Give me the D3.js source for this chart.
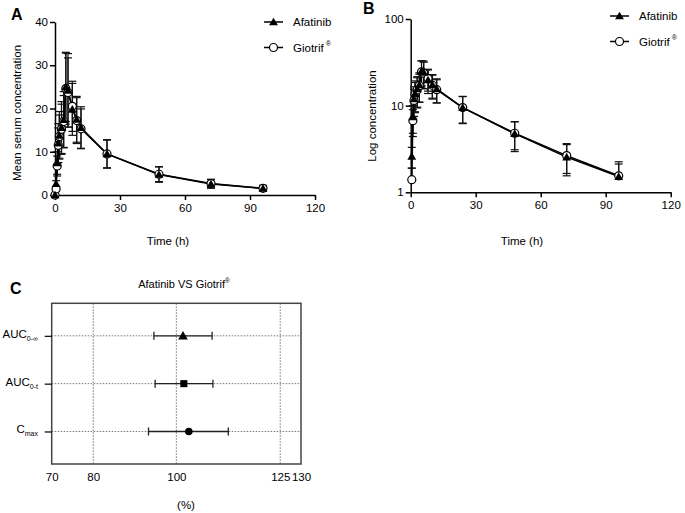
<!DOCTYPE html>
<html>
<head>
<meta charset="utf-8">
<script src="https://cdn.jsdelivr.net/npm/d3@7"></script>
<style>
  body { margin: 0; background: #fff; }
  svg { font-family: "Liberation Sans", Arial, sans-serif; }
</style>
</head>
<body>
<div id="chart"></div>
<script>
// Datos
// =====
var times = [0, 0.5, 1, 1.5, 2, 3, 4, 5, 6, 8, 10, 12, 24, 48, 72, 96];
var afatinibMean = [0, 2.6, 7.4, 12.0, 13.8, 15.6, 17.4, 25.0, 24.2, 19.8, 17.5, 15.6, 9.5, 4.75, 2.55, 1.52];
var afatinibSD   = [0, 0.7, 2.6, 4.5, 5.5, 6.0, 6.5, 8.0, 8.5, 6.0, 5.3, 4.8, 3.3, 1.8, 1.0, 0.6];
var giotrifMean  = [0, 1.4, 6.7, 11.5, 13.5, 15.2, 17.0, 24.6, 23.7, 20.5, 17.2, 15.3, 9.5, 4.8, 2.65, 1.55];
var giotrifSD    = [0, 0.5, 2.3, 4.0, 5.0, 5.8, 6.0, 8.2, 8.0, 5.8, 5.3, 4.6, 3.2, 1.7, 1.0, 0.7];

var xTicks = [0, 30, 60, 90, 120];
var yTicksA = [0, 10, 20, 30, 40];
var yTicksB = [1, 10, 100];

var params = ["AUC0-∞", "AUC0-t", "Cmax"];
var ratio = [101.6, 101.8, 103.0];
var ciLow = [94.6, 94.9, 93.3];
var ciHigh = [108.6, 108.8, 112.5];
var pctTicks = [70, 80, 100, 125, 130];
var pctGrid = [80, 100, 125];

// SVG
// ===
var svg = d3.select("#chart").append("svg")
  .attr("width", 685).attr("height", 513);

var series = [
  { name: "Afatinib", mean: afatinibMean, sd: afatinibSD, sym: "tri" },
  { name: "Giotrif", mean: giotrifMean, sd: giotrifSD, sym: "circ" }
];

function styleAxis(g) {
  g.selectAll("path, line").attr("stroke", "#000").attr("stroke-width", 1.5);
  g.selectAll("text").attr("font-size", "11.5px").attr("fill", "#000")
    .attr("font-family", "Liberation Sans, Arial, sans-serif");
}

function drawMarker(g, sym, cx, cy) {
  if (sym === "tri") {
    g.append("path")
      .attr("d", d3.symbol().type(d3.symbolTriangle).size(34)())
      .attr("transform", "translate(" + cx + "," + (cy + 0.8) + ")")
      .attr("fill", "#000");
  } else {
    g.append("circle").attr("cx", cx).attr("cy", cy).attr("r", 4)
      .attr("fill", "#fff").attr("stroke", "#000").attr("stroke-width", 1.2);
  }
}

function drawPanel(opts) {
  var x = d3.scaleLinear().domain([0, 120]).range(opts.xRange);
  var y = opts.y;
  var g = svg.append("g");

  g.append("g")
    .attr("transform", "translate(0," + opts.xAxisY + ")")
    .call(d3.axisBottom(x).tickValues(xTicks).tickSize(5).tickSizeOuter(0).tickPadding(4))
    .call(styleAxis);

  g.append("g")
    .attr("transform", "translate(" + opts.xRange[0] + ",0)")
    .call(d3.axisLeft(y).tickValues(opts.yTicks).tickSize(5).tickSizeOuter(0).tickPadding(2)
      .tickFormat(d3.format("d")))
    .call(styleAxis);

  series.forEach(function (s) {
    var pts = [];
    times.forEach(function (t, i) {
      if (opts.log && s.mean[i] <= 0) return;
      pts.push({ t: t, m: s.mean[i], sd: s.sd[i] });
    });

    // barras de error
    pts.forEach(function (p) {
      if (p.sd <= 0) return;
      var hi = p.m + p.sd, lo = p.m - p.sd;
      var cx = x(p.t);
      var loOk = opts.log ? lo >= 1 : lo >= 0;
      var yLo = loOk ? y(lo) : y(p.m);
      g.append("line").attr("x1", cx).attr("x2", cx)
        .attr("y1", y(hi)).attr("y2", yLo)
        .attr("stroke", "#111").attr("stroke-width", 1.2);
      g.append("line").attr("x1", cx - 4).attr("x2", cx + 4)
        .attr("y1", y(hi)).attr("y2", y(hi))
        .attr("stroke", "#111").attr("stroke-width", 1.2);
      if (loOk) {
        g.append("line").attr("x1", cx - 4).attr("x2", cx + 4)
          .attr("y1", y(lo)).attr("y2", y(lo))
          .attr("stroke", "#111").attr("stroke-width", 1.2);
      }
    });

    g.append("path").datum(pts)
      .attr("fill", "none").attr("stroke", "#000").attr("stroke-width", 1.5)
      .attr("d", d3.line().x(function (d) { return x(d.t); }).y(function (d) { return y(d.m); }));
    s.pts = pts;
  });

  // marcadores encima
  series.slice().reverse().forEach(function (s) {
    s.pts.forEach(function (p) { drawMarker(g, s.sym, x(p.t), y(p.m)); });
  });

  // leyenda
  series.forEach(function (s, i) {
    var ly = opts.legY + i * 25.5;
    g.append("line").attr("x1", opts.legX).attr("x2", opts.legX + 19)
      .attr("y1", ly).attr("y2", ly).attr("stroke", "#000").attr("stroke-width", 1.5);
    drawMarker(g, s.sym, opts.legX + 9.5, ly);
    var t = g.append("text").attr("x", opts.legX + 29).attr("y", ly + 4)
      .attr("font-size", "11.5px").text(s.name);
    if (s.name === "Giotrif") {
      t.append("tspan").attr("font-size", "7px").attr("dx", 2).attr("dy", -6).text("®");
    }
  });

  g.append("text").attr("x", opts.lbl[0]).attr("y", opts.lbl[1])
    .attr("font-size", "16px").attr("font-weight", "bold").text(opts.label);

  g.append("text").attr("text-anchor", "middle")
    .attr("transform", "translate(" + opts.yLab[0] + "," + opts.yLab[1] + ") rotate(-90)")
    .attr("font-size", "11.5px").text(opts.yTitle);

  g.append("text").attr("text-anchor", "middle")
    .attr("x", opts.xLabX).attr("y", 245)
    .attr("font-size", "11.5px").text("Time (h)");
}

drawPanel({
  label: "A", lbl: [11, 20],
  xRange: [55, 315], xAxisY: 195,
  y: d3.scaleLinear().domain([0, 40]).range([195, 22]),
  yTicks: yTicksA, log: false,
  legX: 264, legY: 22,
  yLab: [21, 113], yTitle: "Mean serum concentration",
  xLabX: 168
});

drawPanel({
  label: "B", lbl: [363, 14],
  xRange: [410.7, 670.7], xAxisY: 192.3,
  y: d3.scaleLog().domain([1, 100]).range([192.3, 19]),
  yTicks: yTicksB, log: true,
  legX: 610, legY: 16,
  yLab: [376, 116], yTitle: "Log concentration",
  xLabX: 522
});

// Panel C: forest plot
// ====================
var xc = d3.scaleLinear().domain([70, 130]).range([51.7, 301]);
var yc = d3.scalePoint().domain(params).range([303.3, 464]).padding(0.68);
var gc = svg.append("g");
var boxTop = 303.3, boxBot = 464;

gc.selectAll(".vgrid").data(pctGrid).enter().append("line")
  .attr("x1", function (d) { return xc(d); }).attr("x2", function (d) { return xc(d); })
  .attr("y1", boxTop).attr("y2", boxBot)
  .attr("stroke", "#777").attr("stroke-width", 1).attr("stroke-dasharray", "1.5,1.5");

gc.selectAll(".hgrid").data(params).enter().append("line")
  .attr("x1", xc(70)).attr("x2", xc(130))
  .attr("y1", function (d) { return yc(d); }).attr("y2", function (d) { return yc(d); })
  .attr("stroke", "#777").attr("stroke-width", 1).attr("stroke-dasharray", "1.5,1.5");

gc.append("rect").attr("x", xc(70)).attr("y", boxTop)
  .attr("width", xc(130) - xc(70)).attr("height", boxBot - boxTop)
  .attr("fill", "none").attr("stroke", "#444").attr("stroke-width", 1.5);

// ejes
var xAxC = gc.append("g").attr("transform", "translate(0," + boxBot + ")")
  .call(d3.axisBottom(xc).tickValues(pctTicks).tickSize(0).tickPadding(9));
xAxC.select(".domain").remove();
xAxC.selectAll("text").attr("font-size", "11.5px").attr("fill", "#000")
  .attr("font-family", "Liberation Sans, Arial, sans-serif");

var yAxC = gc.append("g").attr("transform", "translate(" + xc(70) + ",0)")
  .call(d3.axisLeft(yc).tickSize(7).tickFormat(""));
yAxC.select(".domain").remove();
yAxC.selectAll("line").attr("stroke", "#000").attr("stroke-width", 1.2);

var subs = { "AUC0-∞": ["AUC", "0-∞"], "AUC0-t": ["AUC", "0-t"], "Cmax": ["C", "max"] };
params.forEach(function (p) {
  var t = gc.append("text").attr("x", 38).attr("y", yc(p) + 2).attr("text-anchor", "end")
    .attr("font-size", "11.5px").text(subs[p][0]);
  t.append("tspan").attr("font-size", "7px").attr("dy", 3).text(subs[p][1]);
});

// intervalos
params.forEach(function (p, i) {
  var cy = yc(p);
  gc.append("line").attr("x1", xc(ciLow[i])).attr("x2", xc(ciHigh[i]))
    .attr("y1", cy).attr("y2", cy).attr("stroke", "#222").attr("stroke-width", 1.3);
  [ciLow[i], ciHigh[i]].forEach(function (v) {
    gc.append("line").attr("x1", xc(v)).attr("x2", xc(v))
      .attr("y1", cy - 4).attr("y2", cy + 4).attr("stroke", "#222").attr("stroke-width", 1.3);
  });
  var type = i === 0 ? d3.symbolTriangle : (i === 1 ? d3.symbolSquare : d3.symbolCircle);
  var size = i === 0 ? 40 : (i === 1 ? 50 : 45);
  gc.append("path").attr("d", d3.symbol().type(type).size(size)())
    .attr("transform", "translate(" + xc(ratio[i]) + "," + (cy + (i === 0 ? 0.8 : 0)) + ")")
    .attr("fill", "#000");
});

gc.append("text").attr("x", 184).attr("y", 288).attr("text-anchor", "middle")
  .attr("font-size", "11px").text("Afatinib VS Giotrif")
  .append("tspan").attr("font-size", "6.5px").attr("dy", -5).text("®");

gc.append("text").attr("x", 186).attr("y", 509).attr("text-anchor", "middle")
  .attr("font-size", "11.5px").text("(%)");

gc.append("text").attr("x", 10).attr("y", 294)
  .attr("font-size", "16px").attr("font-weight", "bold").text("C");
</script>
</body>
</html>
